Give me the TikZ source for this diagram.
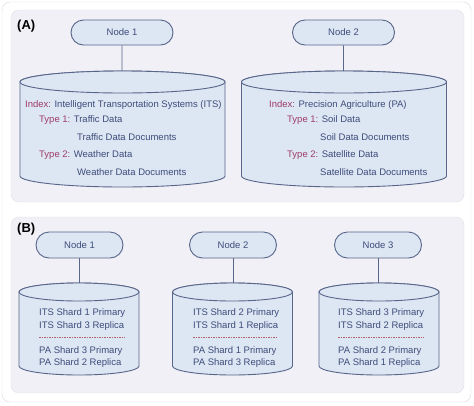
\documentclass[tikz,border=0pt]{standalone}
\usepackage{fontspec}
\setmainfont{Liberation Sans}
\usepackage{tikz}
\usetikzlibrary{shapes.misc}
\definecolor{panelgray}{RGB}{240, 240, 246}
\definecolor{panelline}{RGB}{224, 224, 232}
\definecolor{nodeblue}{RGB}{221, 230, 243}
\definecolor{edgeblue}{RGB}{88, 102, 138}
\definecolor{textblue}{RGB}{62, 76, 122}
\definecolor{keymaroon}{RGB}{158, 60, 104}
\definecolor{sepred}{RGB}{178, 96, 104}

\begin{document}
\begin{tikzpicture}[x=1pt, y=-1pt,
    frame/.style={draw=black!15, fill=white, rounded corners=8pt},
    panel/.style={draw=panelline, fill=panelgray, rounded corners=8pt},
    server/.style={rounded rectangle, draw=edgeblue, fill=nodeblue, line width=0.9pt,
                   minimum height=25pt, inner sep=0pt, text=textblue, font=\fontsize{9.5}{11}\selectfont},
    drum/.style={draw=edgeblue, fill=nodeblue, line width=0.9pt},
    bigcap/.style={x radius=102.5pt, y radius=11pt},
    smallcap/.style={x radius=60pt, y radius=9pt},
    entry/.style={anchor=base west, inner sep=0pt, text=textblue, font=\fontsize{9.5}{11}\selectfont},
    link/.style={draw=edgeblue, line width=0.9pt},
    sep/.style={draw=sepred, dash pattern=on 1.5pt off 1pt, line width=0.8pt},
    paneltag/.style={anchor=west, inner sep=0pt, font=\fontsize{13}{15}\selectfont\bfseries}
]
\useasboundingbox (0,0) rectangle (474,405);
\draw[frame] (2,2) rectangle (471,402);

% Panel A: one index per node
\draw[panel] (11,10) rectangle (464,202);
\node[paneltag] (ta) at (17,26) {(A)};

\node[server, minimum width=102pt] (a1) at (122,32.5) {Node 1};
\node[server, minimum width=102pt] (a2) at (343.5,32.5) {Node 2};

% cylinders (A)
\draw[drum] (20,82) -- (20,176) arc[start angle=180, end angle=360, bigcap] -- (225,82)
    arc[start angle=0, end angle=180, bigcap] -- cycle;
\draw[drum] (122.5,82) ellipse[bigcap];
\coordinate (ca1) at (122,71);
\draw[drum] (241.5,82) -- (241.5,176) arc[start angle=180, end angle=360, bigcap] -- (446.5,82)
    arc[start angle=0, end angle=180, bigcap] -- cycle;
\draw[drum] (344,82) ellipse[bigcap];
\coordinate (ca2) at (343.5,71);

\draw[link] (a1) -- (ca1);
\draw[link] (a2) -- (ca2);

\node[entry] (ia1) at (25,107.4) {\textcolor{keymaroon}{Index:} Intelligent Transportation Systems (ITS)};
\node[entry] (ta11) at (39,122.9) {\textcolor{keymaroon}{Type 1:} Traffic Data};
\node[entry] (da11) at (77,140.7) {Traffic Data Documents};
\node[entry] (ta12) at (39,157.7) {\textcolor{keymaroon}{Type 2:} Weather Data};
\node[entry] (da12) at (77,175.4) {Weather Data Documents};

\node[entry] (ia2) at (269,107.4) {\textcolor{keymaroon}{Index:} Precision Agriculture (PA)};
\node[entry] (ta21) at (287,122.9) {\textcolor{keymaroon}{Type 1:} Soil Data};
\node[entry] (da21) at (320,140.7) {Soil Data Documents};
\node[entry] (ta22) at (287,157.7) {\textcolor{keymaroon}{Type 2:} Satellite Data};
\node[entry] (da22) at (320,175.4) {Satellite Data Documents};

% Panel B: shards spread over three nodes
\draw[panel] (11,217) rectangle (464,393);
\node[paneltag] (tb) at (17,229) {(B)};

\node[server, minimum width=87pt, minimum height=26pt] (b1) at (79.5,245) {Node 1};
\node[server, minimum width=87pt, minimum height=26pt] (b2) at (233,245) {Node 2};
\node[server, minimum width=87pt, minimum height=26pt] (b3) at (378,245) {Node 3};

% cylinders (B)
\draw[drum] (19,292) -- (19,366) arc[start angle=180, end angle=360, smallcap] -- (139,292)
    arc[start angle=0, end angle=180, smallcap] -- cycle;
\draw[drum] (79,292) ellipse[smallcap];
\coordinate (cb1) at (79.5,283);
\draw[drum] (172.5,292) -- (172.5,366) arc[start angle=180, end angle=360, smallcap] -- (292.5,292)
    arc[start angle=0, end angle=180, smallcap] -- cycle;
\draw[drum] (232.5,292) ellipse[smallcap];
\coordinate (cb2) at (233,283);
\draw[drum] (319,292) -- (319,366) arc[start angle=180, end angle=360, smallcap] -- (439,292)
    arc[start angle=0, end angle=180, smallcap] -- cycle;
\draw[drum] (379,292) ellipse[smallcap];
\coordinate (cb3) at (378,283);

\draw[link] (b1) -- (cb1);
\draw[link] (b2) -- (cb2);
\draw[link] (b3) -- (cb3);

\node[entry] (s11) at (39,315) {ITS Shard 1 Primary};
\node[entry] (s12) at (39,328.4) {ITS Shard 3 Replica};
\node[entry] (s13) at (39,353.4) {PA Shard 3 Primary};
\node[entry] (s14) at (39,365.1) {PA Shard 2 Replica};
\draw[sep] (39,337.3) -- (125,337.3);

\node[entry] (s21) at (193,315) {ITS Shard 2 Primary};
\node[entry] (s22) at (193,328.4) {ITS Shard 1 Replica};
\node[entry] (s23) at (193,353.4) {PA Shard 1 Primary};
\node[entry] (s24) at (193,365.1) {PA Shard 3 Replica};
\draw[sep] (193,337.3) -- (278,337.3);

\node[entry] (s31) at (338,315) {ITS Shard 3 Primary};
\node[entry] (s32) at (338,328.4) {ITS Shard 2 Replica};
\node[entry] (s33) at (338,353.4) {PA Shard 2 Primary};
\node[entry] (s34) at (338,365.1) {PA Shard 1 Replica};
\draw[sep] (338,337.3) -- (424,337.3);

\end{tikzpicture}
\end{document}
